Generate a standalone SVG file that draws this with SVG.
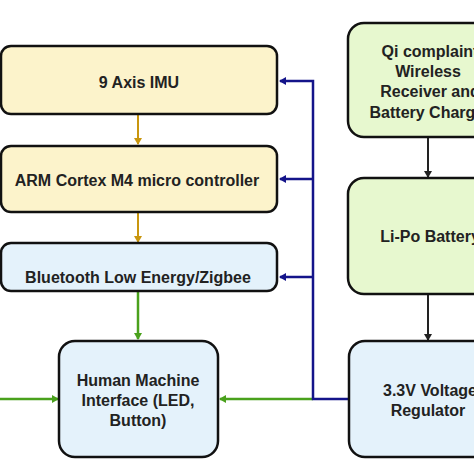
<svg xmlns="http://www.w3.org/2000/svg" width="474" height="474" viewBox="0 0 474 474">
<style>
.box{stroke:#111;stroke-width:2.5}
.y{fill:#FCF3CB}
.b{fill:#E4F2FB}
.g{fill:#E7F8CF}
text{font-family:"Liberation Sans",Arial,sans-serif;font-weight:bold;font-size:16px;fill:#222;text-anchor:middle}
.or{stroke:#C9960E;stroke-width:2;fill:none}
.bl{stroke:#14148A;stroke-width:2.5;fill:none}
.gr{stroke:#4AA11C;stroke-width:2.5;fill:none}
.bk{stroke:#222;stroke-width:2;fill:none}
</style>
<defs>
<marker id="aor" markerWidth="8" markerHeight="8" refX="6" refY="4" orient="auto" markerUnits="userSpaceOnUse"><path d="M0,0 L7,4 L0,8 z" fill="#C9960E"/></marker>
<marker id="abl" markerWidth="8" markerHeight="8" refX="6" refY="4" orient="auto" markerUnits="userSpaceOnUse"><path d="M0,0 L7,4 L0,8 z" fill="#14148A"/></marker>
<marker id="agr" markerWidth="8" markerHeight="8" refX="6" refY="4" orient="auto" markerUnits="userSpaceOnUse"><path d="M0,0 L7,4 L0,8 z" fill="#4AA11C"/></marker>
<marker id="abk" markerWidth="8" markerHeight="8" refX="6" refY="4" orient="auto" markerUnits="userSpaceOnUse"><path d="M0,0 L7,4 L0,8 z" fill="#222"/></marker>
</defs>
<rect width="474" height="474" fill="#fff"/>
<g id="connectors">
<line class="or" x1="138" y1="115" x2="138" y2="144" marker-end="url(#aor)"/>
<line class="or" x1="138" y1="213" x2="138" y2="242" marker-end="url(#aor)"/>
<line class="gr" x1="138" y1="291" x2="138" y2="339" marker-end="url(#agr)"/>
<line class="gr" x1="0" y1="399" x2="58" y2="399" marker-end="url(#agr)"/>
<line class="gr" x1="313" y1="399" x2="220" y2="399" marker-end="url(#agr)"/>
<polyline class="bl" points="348,399 313,399 313,81 280,81" marker-end="url(#abl)"/>
<line class="bl" x1="313" y1="179" x2="280" y2="179" marker-end="url(#abl)"/>
<line class="bl" x1="313" y1="277" x2="280" y2="277" marker-end="url(#abl)"/>
<line class="bk" x1="428" y1="138" x2="428" y2="177" marker-end="url(#abk)"/>
<line class="bk" x1="428" y1="295" x2="428" y2="340" marker-end="url(#abk)"/>
</g>
<g id="imu"><rect class="box y" x="1" y="46" width="276" height="68" rx="10"/><text x="139" y="88">9 Axis IMU</text></g>
<g id="arm"><rect class="box y" x="1" y="146" width="276" height="66" rx="10"/><text x="137" y="186">ARM Cortex M4 micro controller</text></g>
<g id="ble"><rect class="box b" x="1" y="243" width="276" height="48" rx="10"/><text x="138" y="283">Bluetooth Low Energy/Zigbee</text></g>
<g id="hmi"><rect class="box b" x="59" y="341" width="159" height="116" rx="16"/><text x="138" y="386">Human Machine</text><text x="138" y="406">Interface (LED,</text><text x="138" y="426">Button)</text></g>
<g id="qi"><rect class="box g" x="348" y="23" width="160" height="114" rx="16"/><text x="430" y="57">Qi complaint</text><text x="428" y="77">Wireless</text><text x="430" y="97">Receiver and</text><text x="430" y="118">Battery Charger</text></g>
<g id="lipo"><rect class="box g" x="348" y="178" width="160" height="116" rx="16"/><text x="430" y="242">Li-Po Battery</text></g>
<g id="reg"><rect class="box b" x="349" y="341" width="160" height="116" rx="16"/><text x="430" y="396">3.3V Voltage</text><text x="428" y="416">Regulator</text></g>
</svg>
